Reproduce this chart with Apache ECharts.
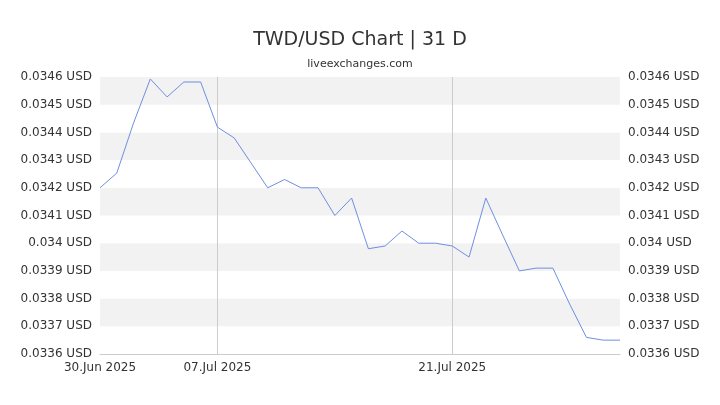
<!DOCTYPE html>
<html><head><meta charset="utf-8">
<script src="https://cdn.jsdelivr.net/npm/echarts@6/dist/echarts.min.js"></script>
<style>html,body{margin:0;padding:0;background:#fff}#c{width:720px;height:405px}</style>
</head><body><div id="c"></div>
<script>
const dates = ['30.Jun 2025','01.Jul','02.Jul','03.Jul','04.Jul','05.Jul','06.Jul','07.Jul 2025','08.Jul','09.Jul','10.Jul','11.Jul','12.Jul','13.Jul','14.Jul','15.Jul','16.Jul','17.Jul','18.Jul','19.Jul','20.Jul','21.Jul 2025','22.Jul','23.Jul','24.Jul','25.Jul','26.Jul','27.Jul','28.Jul','29.Jul','30.Jul','31.Jul'];
const rates = [0.03420,0.034253,0.034434,0.034593,0.034528,0.034582,0.034582,0.034419,0.03438,0.03429,0.03420,0.03423,0.03420,0.03420,0.03410,0.034163,0.03398,0.03399,0.034044,0.03400,0.03400,0.03399,0.03395,0.034163,0.03403,0.03390,0.03391,0.03391,0.03378,0.03366,0.03365,0.03365];
const labelIdx = [0,7,21];
const fmt = v => parseFloat(v.toFixed(4)) + ' USD';
const yCommon = {type:'value',min:0.0336,max:0.0346,interval:0.0001,
  axisLabel:{formatter:fmt,color:'#333',fontSize:12,fontFamily:'DejaVu Sans'},
  axisLine:{show:false},axisTick:{show:false},
  splitLine:{show:false}};
const chart = echarts.init(document.getElementById('c'));
chart.setOption({
  animation:false,
  title:{text:'TWD/USD Chart | 31 D',subtext:'liveexchanges.com',left:'center',top:26,
    textStyle:{fontSize:19,fontWeight:'normal',color:'#333',fontFamily:'DejaVu Sans'},
    subtextStyle:{fontSize:11,color:'#333',fontFamily:'DejaVu Sans'},itemGap:9},
  grid:{left:100,right:100,top:77,bottom:51},
  xAxis:{type:'category',data:dates,boundaryGap:false,
    axisLine:{lineStyle:{color:'#ccc'}},axisTick:{show:false},
    axisLabel:{interval:(i)=>labelIdx.includes(i),color:'#333',fontSize:12,fontFamily:'DejaVu Sans',showMinLabel:true},
    splitLine:{show:true,interval:(i)=>i===7||i===21,lineStyle:{color:'#ccc'}}},
  yAxis:[Object.assign({},yCommon,{position:'left',splitArea:{show:true,areaStyle:{color:['#ffffff','#f2f2f2']}}}),
         Object.assign({},yCommon,{position:'right'})],
  series:[{type:'line',data:rates,symbol:'none',lineStyle:{color:'#6f8fdf',width:1}}]
});
</script></body></html>
